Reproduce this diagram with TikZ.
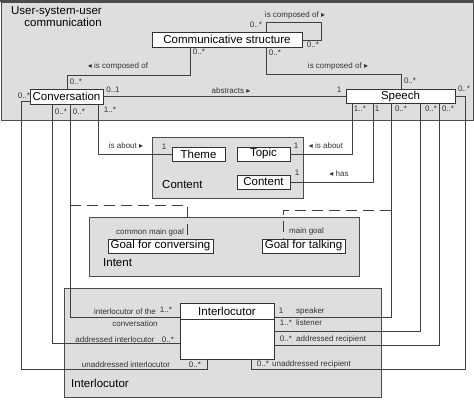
\documentclass[tikz,border=0pt]{standalone}
\usepackage{fontspec}
\setmainfont{Liberation Sans}
\newfontfamily\symfont{DejaVu Sans}
\newcommand{\rtri}{{\symfont\char"25B8}}
\newcommand{\ltri}{{\symfont\char"25C2}}

\begin{document}
\begin{tikzpicture}[x=1pt, y=-1pt,
	classbox/.style={draw=black!80, fill=white, inner sep=0pt, font=\fontsize{11.5}{12}\selectfont},
	pkg/.style={draw=black!70, fill=black!13},
	conn/.style={draw=black!75, line width=0.7pt},
	dashline/.style={conn, dash pattern=on 11pt off 6pt},
	lbl/.style={inner sep=0pt, font=\fontsize{8}{9}\selectfont, text=black!80},
	pkglabel/.style={anchor=west, inner sep=0pt, font=\fontsize{11.5}{12}\selectfont}]
	\useasboundingbox (0,0) rectangle (474,400);

	%packages plus labels
	\filldraw[pkg] (1.5,2) rectangle (473.5,120);
	\draw[black!70, line width=2.5pt] (0,1.2) -- (474,1.2);
	\node[pkglabel, anchor=north east, align=right] (usulabel) at (102,6) {User-system-user\\communication};
	\filldraw[pkg] (152,137) rectangle (303,198);
	\node[pkglabel] (contentlabel) at (162,185) {Content};
	\filldraw[pkg] (89,217) rectangle (359,276);
	\node[pkglabel] (intentlabel) at (103,263) {Intent};
	\filldraw[pkg] (64,288) rectangle (381,397);
	\node[pkglabel] (interlabel) at (71,383) {Interlocutor};

	%classes
	\node[classbox, minimum width=150pt, minimum height=15pt] (comm) at (227,39.5) {Communicative structure};
	\node[classbox, minimum width=73pt, minimum height=15pt] (conv) at (66.5,96.5) {Conversation};
	\node[classbox, minimum width=109pt, minimum height=14pt] (speech) at (400.5,96.5) {Speech};
	\node[classbox, minimum width=53pt, minimum height=14pt] (theme) at (198.5,154) {Theme};
	\node[classbox, minimum width=53pt, minimum height=14pt] (topic) at (263.5,154) {Topic};
	\node[classbox, minimum width=53pt, minimum height=14pt] (content) at (263.5,182) {Content};
	\node[classbox, minimum width=105pt, minimum height=14pt] (goalconv) at (160.5,246) {Goal for conversing};
	\node[classbox, minimum width=83pt, minimum height=14pt] (goaltalk) at (303.5,246) {Goal for talking};
	\node[classbox, minimum width=94pt, minimum height=16pt] (inter) at (227,311) {Interlocutor};
	\node[classbox, minimum width=94pt, minimum height=40pt] (interbody) at (227,339) {};

	%composition and abstraction
	\draw[conn] (comm.north -| 266,0) |- (321,22) |- (comm.east |- 0,40);
	\draw[conn] (comm.south -| 190,0) -- (190,75) -| (conv.north -| 67,0);
	\draw[conn] (comm.south -| 266,0) -- (266,74) -| (speech.north -| 401,0);
	\draw[conn] (conv.east) -- (speech.west);

	%links from conversation
	\draw[conn] (conv.west |- 0,101) -- (21,101) |- (207,369) -- (interbody.south -| 207,0);
	\draw[conn] (conv.south -| 52,0) |- (interbody.west |- 0,343);
	\draw[conn] (conv.south -| 70,0) |- (inter.west |- 0,317);
	\draw[conn] (conv.south -| 98,0) |- (theme.west);

	%links from speech
	\draw[conn] (speech.south -| 352,0) |- (topic.east);
	\draw[conn] (speech.south -| 373,0) |- (content.east);
	\draw[conn] (speech.south -| 391,0) |- (inter.east |- 0,317);
	\draw[conn] (speech.south -| 420,0) |- (interbody.east |- 0,331);
	\draw[conn] (speech.south -| 439,0) |- (interbody.east |- 0,345);
	\draw[conn] (speech.east) -- (465,96.5) |- (251,369) -- (interbody.south -| 251,0);

	%goals, dashed
	\coordinate (convgoal) at (70,205);
	\coordinate (speechgoal) at (391,210);
	\draw[dashline] (convgoal) -| (goalconv.north -| 187,0);
	\draw[dashline] (speechgoal) -| (goaltalk.north -| 283,0);

	%multiplicities and roles, top
	\node[lbl] (rloop) at (295,15) {is composed of \rtri};
	\node[lbl] (mloopa) at (256,25) {0..*};
	\node[lbl] (mloopb) at (313,45) {0..*};
	\node[lbl] (mcomml) at (199,52) {0..*};
	\node[lbl] (rconv) at (118,66) {\ltri{} is composed of};
	\node[lbl] (mconvtop) at (76,82) {0..*};
	\node[lbl] (mcommr) at (275,53) {0..*};
	\node[lbl] (rspeech) at (338,66) {is composed of \rtri};
	\node[lbl] (mspeechtop) at (410,81) {0..*};
	\node[lbl] (mabsa) at (113,90) {0..1};
	\node[lbl] (rabs) at (231,91) {abstracts \rtri};
	\node[lbl] (mabsb) at (339,90) {1};
	\node[lbl] (mconvleft) at (24,96) {0..*};
	\node[lbl] (mspeechright) at (464,89) {0..*};
	\node[lbl] (mconva) at (61,112) {0..*};
	\node[lbl] (mconvb) at (79,112) {0..*};
	\node[lbl] (mconvc) at (110,110) {1..*};
	\node[lbl] (mspa) at (360,109) {1..*};
	\node[lbl] (mspb) at (377,109) {1};
	\node[lbl] (mspc) at (401,109) {0..*};
	\node[lbl] (mspd) at (431,109) {0..*};
	\node[lbl] (mspe) at (448,109) {0..*};

	%content and intent
	\node[lbl] (rtheme) at (126,146) {is about \rtri};
	\node[lbl] (mtheme) at (164,147) {1};
	\node[lbl] (mtopic) at (296,146) {1};
	\node[lbl] (rtopic) at (326,146) {\ltri{} is about};
	\node[lbl] (mcontent) at (297,173) {1};
	\node[lbl] (rcontent) at (339,174) {\ltri{} has};
	\node[lbl, anchor=east] (rgoalconv) at (184,232) {common main goal};
	\node[lbl, anchor=west] (rgoaltalk) at (289,231) {main goal};

	%interlocutor roles
	\node[lbl] (rinterconv) at (125,312) {interlocutor of the};
	\node[lbl] (rinterconvb) at (135,324) {conversation};
	\node[lbl] (minterconv) at (166,310) {1..*};
	\node[lbl] (raddr) at (115,340) {addressed interlocutor};
	\node[lbl] (maddr) at (168,340) {0..*};
	\node[lbl] (runaddr) at (126,365) {unaddressed interlocutor};
	\node[lbl] (munaddr) at (195,365) {0..*};
	\node[lbl] (mspeaker) at (281,311) {1};
	\node[lbl, anchor=west] (rspeaker) at (296,311) {speaker};
	\node[lbl] (mlistener) at (286,323) {1..*};
	\node[lbl, anchor=west] (rlistener) at (296,323) {listener};
	\node[lbl] (mrecip) at (286,339) {0..*};
	\node[lbl, anchor=west] (rrecip) at (296,339) {addressed recipient};
	\node[lbl] (munrecip) at (263,364) {0..*};
	\node[lbl, anchor=west] (runrecip) at (272,364) {unaddressed recipient};
\end{tikzpicture}
\end{document}
